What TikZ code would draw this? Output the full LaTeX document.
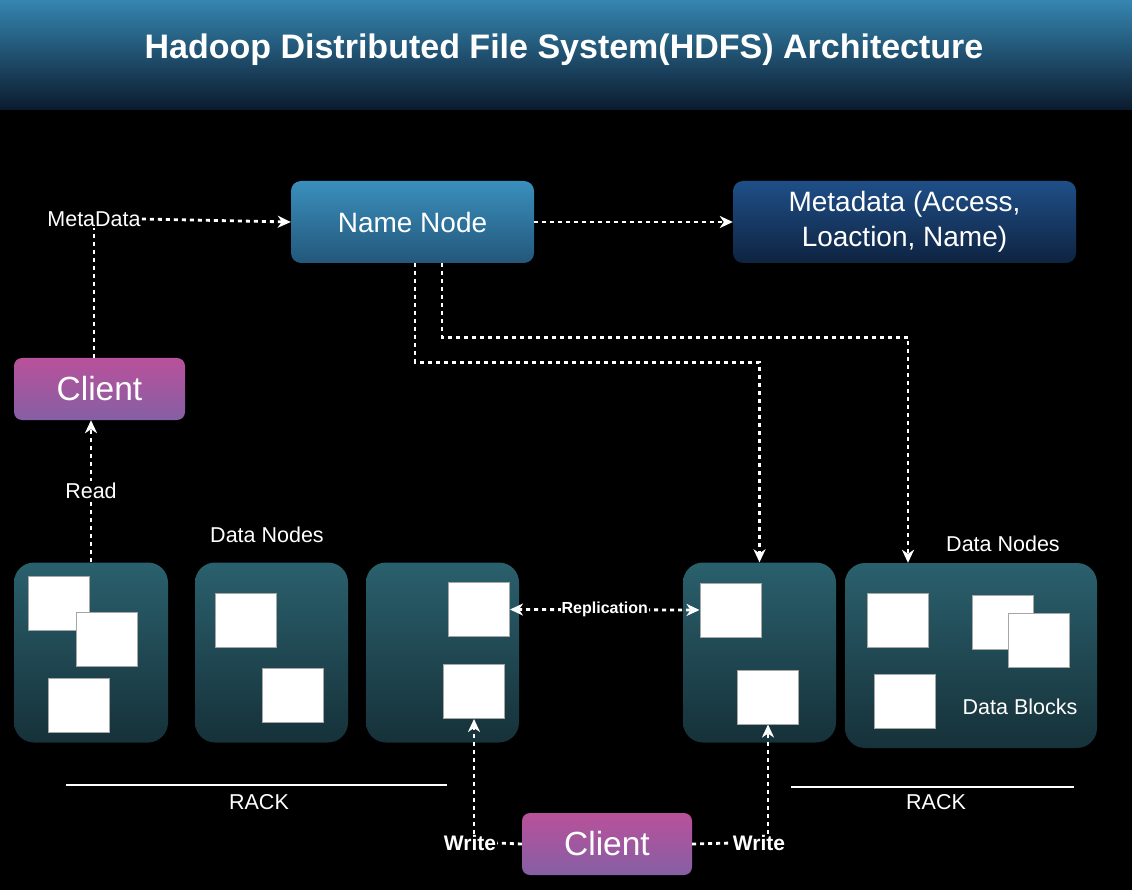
\documentclass[tikz,border=0pt]{standalone}
\usepackage{fontspec}
\setmainfont{Liberation Sans}
\usetikzlibrary{arrows.meta}
\definecolor{bandtop}{HTML}{3586B1}
\definecolor{bandbot}{HTML}{0B1A2D}
\definecolor{nametop}{HTML}{3A8FBD}
\definecolor{namebot}{HTML}{23577A}
\definecolor{metatop}{HTML}{1F4F88}
\definecolor{metabot}{HTML}{0E2340}
\definecolor{clienttop}{HTML}{B9519B}
\definecolor{clientbot}{HTML}{855FA4}
\definecolor{racktop}{HTML}{2A606D}
\definecolor{rackbot}{HTML}{163139}
\tikzset{
	box/.style = {
		align=center,
		inner sep=0pt,
		text=white,
		draw=none
	},
	box_name/.style = {
		box,
		rounded corners=10pt,
		top color=nametop,
		bottom color=namebot,
		minimum width=243pt,
		minimum height=82pt,
		font=\fontsize{28}{33}\selectfont
	},
	box_meta/.style = {
		box_name,
		top color=metatop,
		bottom color=metabot,
		minimum width=343pt,
		font=\fontsize{28}{35}\selectfont
	},
	box_client/.style = {
		box,
		rounded corners=8pt,
		top color=clienttop,
		bottom color=clientbot,
		minimum width=171pt,
		minimum height=62pt,
		font=\fontsize{33.5}{38}\selectfont
	},
	box_rack/.style = {
		box,
		rounded corners=20pt,
		top color=racktop,
		bottom color=rackbot,
		minimum width=154pt,
		minimum height=180pt
	},
	blk/.style = {
		rectangle,
		fill=white,
		draw=gray!70,
		line width=1pt,
		minimum width=61pt,
		minimum height=54pt
	},
	lbl/.style = {
		text=white,
		inner sep=1pt,
		font=\fontsize{21.5}{25}\selectfont
	},
	lbl_bold/.style = {
		lbl,
		font=\bfseries\fontsize{21}{25}\selectfont
	},
	flow_plain/.style = {
		white,
		line width=2.8pt,
		dash pattern=on 4pt off 4pt
	},
	flow/.style = {
		flow_plain,
		-{Stealth[length=13pt, width=12pt, inset=4pt]}
	},
	flow_both/.style = {
		flow_plain,
		{Stealth[length=13pt, width=12pt, inset=4pt]}-{Stealth[length=13pt, width=12pt, inset=4pt]}
	}
}

\begin{document}
\begin{tikzpicture}[x=1pt, y=-1pt]
% background and title band
\fill[black] (0,0) rectangle (1132,890);
\useasboundingbox (0,0) rectangle (1132,890);
\shade[top color=bandtop, bottom color=bandbot] (0,0) rectangle (1132,110);
\node[text=white, font=\bfseries\fontsize{34}{40}\selectfont] (title) at (564,50) {Hadoop Distributed File System(HDFS) Architecture};

% name node and metadata
\node[box_name] (name) at (412.5,222) {Name Node};
\node[box_meta] (meta) at (904.5,222) {Metadata (Access,\\Loaction, Name)};
\node[lbl] (lbl_meta) at (94,219) {MetaData};
\node[box_client] (client_r) at (99.5,389) {Client};

% racks with data nodes
\node[box_rack] (dn1) at (91,652.5) {};
\node[box_rack, minimum width=153pt] (dn2) at (271.5,652.5) {};
\node[box_rack, minimum width=153pt] (dn3) at (442.5,652.5) {};
\node[box_rack, minimum width=153pt] (dn4) at (759.5,652.5) {};
\node[box_rack, minimum width=252pt, minimum height=185pt] (dn5) at (971,655.5) {};

\node[blk] (b1) at (59,603) {};
\node[blk] (b2) at (106.5,639) {};
\node[blk] (b3) at (78.5,705) {};
\node[blk] (b4) at (246,620) {};
\node[blk] (b5) at (292.5,695) {};
\node[blk] (b6) at (479,609.5) {};
\node[blk] (b7) at (474,691.5) {};
\node[blk] (b8) at (730.5,610) {};
\node[blk] (b9) at (768,697) {};
\node[blk] (b10) at (897.5,620) {};
\node[blk] (b11) at (1002.5,622) {};
\node[blk] (b12) at (1039,640) {};
\node[blk] (b13) at (905,701.5) {};

\node[lbl] (lbl_dn1) at (267,535) {Data Nodes};
\node[lbl] (lbl_dn2) at (1003,544) {Data Nodes};
\node[lbl] (lbl_blocks) at (1020,707) {Data Blocks};

% rack lines
\draw[white, line width=2.5pt] (66,785) -- (447,785);
\draw[white, line width=2.5pt] (791,787) -- (1074,787);
\node[lbl] (rack1) at (259,802) {RACK};
\node[lbl] (rack2) at (936,802) {RACK};

% writing client
\node[box_client, minimum width=170pt] (client_w) at (607,844) {Client};
\node[lbl_bold] (lbl_wl) at (470,843) {Write};
\node[lbl_bold] (lbl_wr) at (759,843) {Write};

% connectors
\draw[flow] (lbl_meta.east) -- (name.west);
\draw[flow_plain] (client_r.north -| lbl_meta.south) -- (lbl_meta.south);
\draw[flow] (name.east) -- (meta.west);
\draw[flow] (dn1.north) -- node[lbl, fill=black, inner sep=2pt] {Read} (dn1.north |- client_r.south);
\draw[flow] ([xshift=2.5pt]name.south) -- ++(0,99) -| (dn4.north);
\draw[flow] ([xshift=29.5pt]name.south) -- ++(0,74) -| ([xshift=-63pt]dn5.north);
\draw[flow_both] (b6.east) -- node[lbl_bold, fill=black, font=\bfseries\fontsize{16}{20}\selectfont] {Replication} (b8.west);
\draw[flow_plain] (client_w.west) -- (lbl_wl.east);
\draw[flow] (lbl_wl.north -| b7.south) -- (b7.south);
\draw[flow_plain] (client_w.east) -- (lbl_wr.west);
\draw[flow] (lbl_wr.north -| b9.south) -- (b9.south);
\end{tikzpicture}
\end{document}
